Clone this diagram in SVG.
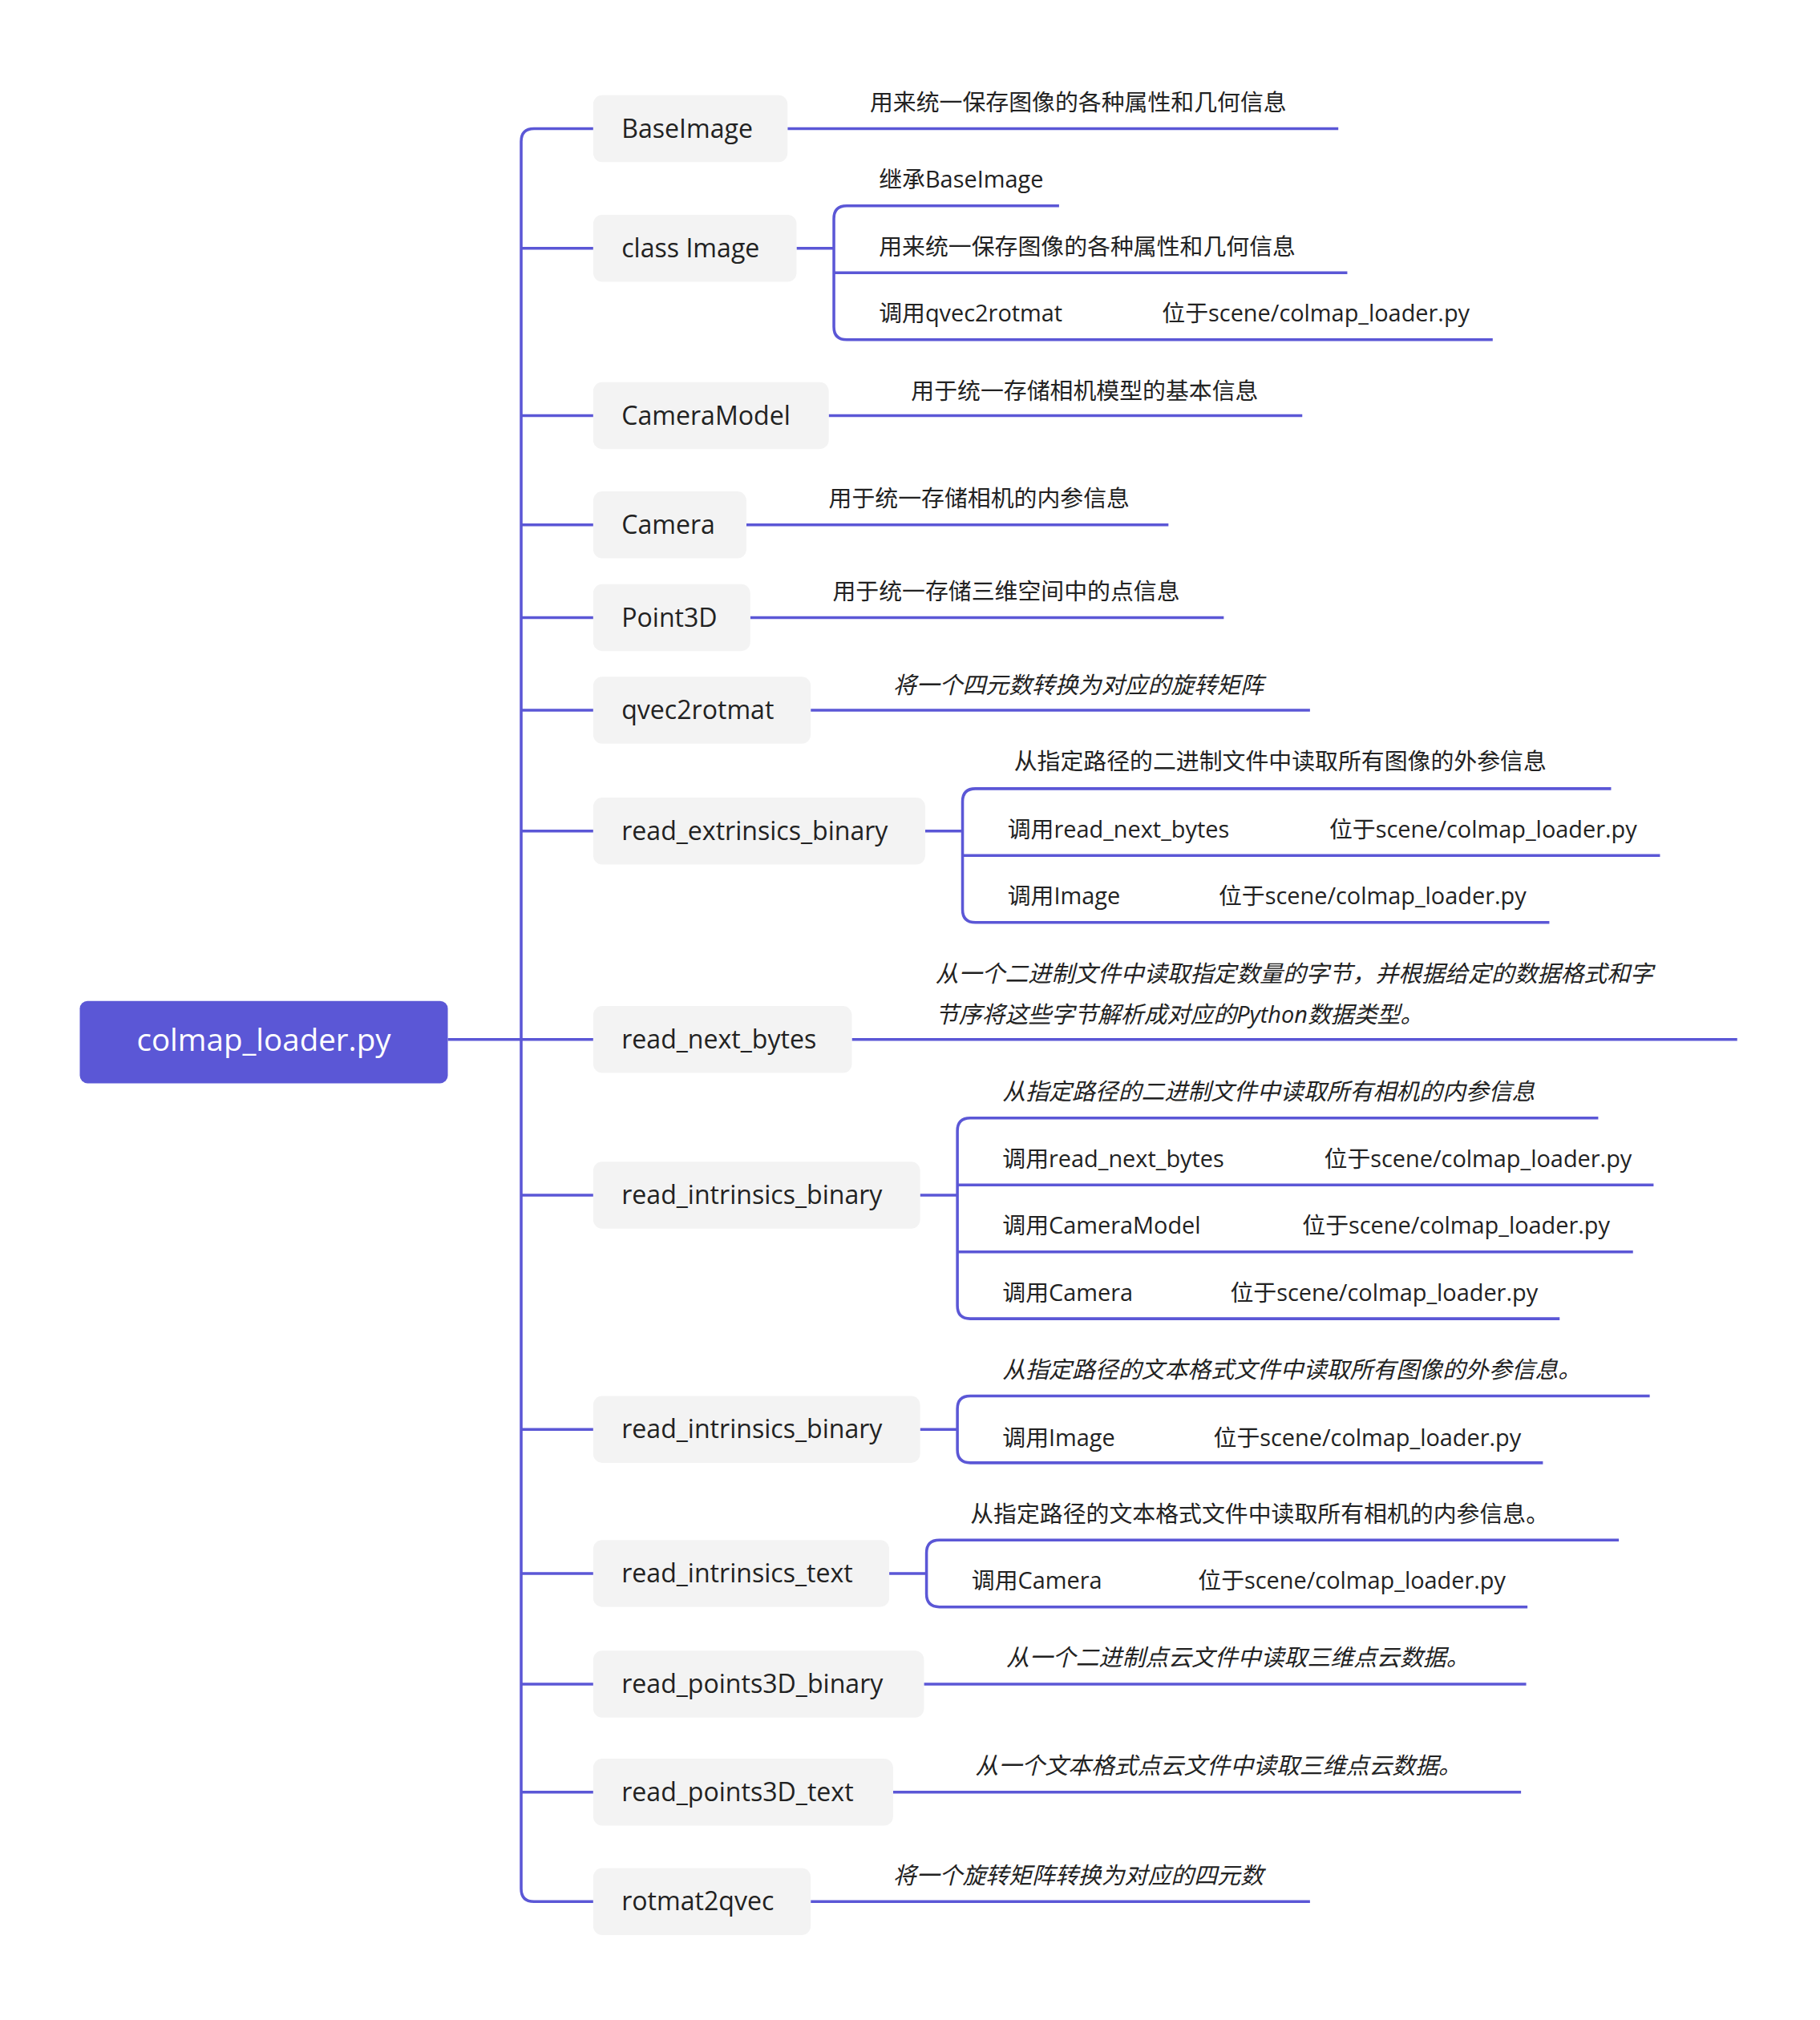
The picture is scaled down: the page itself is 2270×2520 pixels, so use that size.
<svg xmlns="http://www.w3.org/2000/svg" width="2270" height="2520" viewBox="0 0 2270 2520">
<style>
.n rect{fill:#f3f3f3}
.n text{font-family:"Open Sans","Noto Sans CJK SC",sans-serif;font-size:20px;fill:#222}
.t{font-family:"Open Sans","Noto Sans CJK SC",sans-serif;font-size:18px;fill:#222}
.i{font-style:italic}
#c path{fill:none;stroke:#5b57d6;stroke-width:2.2}
</style>
<rect width="2270" height="2520" fill="#fff"/>
<g transform="scale(1.605)">
<g id="c">
<path d="M348,808H461"/>
<path d="M461,100H415Q405,100 405,110V1468Q405,1478 415,1478H461"/>
<path d="M405,193H461M405,323H461M405,408H461M405,480H461M405,552H461M405,646H461M405,929H461M405,1111H461M405,1223H461M405,1309H461M405,1393H461"/>
<path d="M612,100H1040M644,323H1012M580,408H908M583,480H951M630,552H1018M662,808H1350M718,1309H1186M694,1393H1182M630,1478H1018"/>
<path d="M619,193H648M658,160Q648,160 648,170V254Q648,264 658,264H1160M658,160H823M648,212H1047"/>
<path d="M719,646H748M758,613Q748,613 748,623V707Q748,717 758,717H1204M758,613H1252M748,665H1290"/>
<path d="M715,929H744M754,869Q744,869 744,879V1015Q744,1025 754,1025H1212M754,869H1242M744,921H1285M744,973H1269"/>
<path d="M715,1111H744M754,1085Q744,1085 744,1095V1127Q744,1137 754,1137H1199M754,1085H1282"/>
<path d="M691,1223H720M730,1197Q720,1197 720,1207V1239Q720,1249 730,1249H1187M730,1197H1258"/>
</g>
<g id="root"><rect x="62" y="778" width="286" height="64" rx="6" fill="#5b57d6"/><text x="205" y="817" text-anchor="middle" font-family="Open Sans,Noto Sans CJK SC,sans-serif" font-size="24" fill="#fff">colmap_loader.py</text></g>
<g id="n1" class="n"><rect x="461" y="74" width="151" height="52" rx="7"/><text x="483" y="107">BaseImage</text></g>
<g id="n2" class="n"><rect x="461" y="167" width="158" height="52" rx="7"/><text x="483" y="200">class Image</text></g>
<g id="n3" class="n"><rect x="461" y="297" width="183" height="52" rx="7"/><text x="483" y="330">CameraModel</text></g>
<g id="n4" class="n"><rect x="461" y="382" width="119" height="52" rx="7"/><text x="483" y="415">Camera</text></g>
<g id="n5" class="n"><rect x="461" y="454" width="122" height="52" rx="7"/><text x="483" y="487">Point3D</text></g>
<g id="n6" class="n"><rect x="461" y="526" width="169" height="52" rx="7"/><text x="483" y="559">qvec2rotmat</text></g>
<g id="n7" class="n"><rect x="461" y="620" width="258" height="52" rx="7"/><text x="483" y="653">read_extrinsics_binary</text></g>
<g id="n8" class="n"><rect x="461" y="782" width="201" height="52" rx="7"/><text x="483" y="815">read_next_bytes</text></g>
<g id="n9" class="n"><rect x="461" y="903" width="254" height="52" rx="7"/><text x="483" y="936">read_intrinsics_binary</text></g>
<g id="n10" class="n"><rect x="461" y="1085" width="254" height="52" rx="7"/><text x="483" y="1118">read_intrinsics_binary</text></g>
<g id="n11" class="n"><rect x="461" y="1197" width="230" height="52" rx="7"/><text x="483" y="1230">read_intrinsics_text</text></g>
<g id="n12" class="n"><rect x="461" y="1283" width="257" height="52" rx="7"/><text x="483" y="1316">read_points3D_binary</text></g>
<g id="n13" class="n"><rect x="461" y="1367" width="233" height="52" rx="7"/><text x="483" y="1400">read_points3D_text</text></g>
<g id="n14" class="n"><rect x="461" y="1452" width="169" height="52" rx="7"/><text x="483" y="1485">rotmat2qvec</text></g>
<g id="labels">
<text class="t" x="676" y="86">用来统一保存图像的各种属性和几何信息</text>
<text class="t" x="683" y="146">继承BaseImage</text>
<text class="t" x="683" y="198">用来统一保存图像的各种属性和几何信息</text>
<text class="t" x="683" y="250">调用qvec2rotmat</text><text class="t" x="903" y="250">位于scene/colmap_loader.py</text>
<text class="t" x="708" y="310">用于统一存储相机模型的基本信息</text>
<text class="t" x="644" y="394">用于统一存储相机的内参信息</text>
<text class="t" x="647" y="466">用于统一存储三维空间中的点信息</text>
<text class="t i" x="694" y="539">将一个四元数转换为对应的旋转矩阵</text>
<text class="t" x="788" y="598">从指定路径的二进制文件中读取所有图像的外参信息</text>
<text class="t" x="783" y="651">调用read_next_bytes</text><text class="t" x="1033" y="651">位于scene/colmap_loader.py</text>
<text class="t" x="783" y="703">调用Image</text><text class="t" x="947" y="703">位于scene/colmap_loader.py</text>
<text class="t i" x="727" y="763">从一个二进制文件中读取指定数量的字节，并根据给定的数据格式和字</text>
<text class="t i" x="727" y="795">节序将这些字节解析成对应的Python数据类型。</text>
<text class="t i" x="779" y="855">从指定路径的二进制文件中读取所有相机的内参信息</text>
<text class="t" x="779" y="907">调用read_next_bytes</text><text class="t" x="1029" y="907">位于scene/colmap_loader.py</text>
<text class="t" x="779" y="959">调用CameraModel</text><text class="t" x="1012" y="959">位于scene/colmap_loader.py</text>
<text class="t" x="779" y="1011">调用Camera</text><text class="t" x="956" y="1011">位于scene/colmap_loader.py</text>
<text class="t i" x="779" y="1071">从指定路径的文本格式文件中读取所有图像的外参信息。</text>
<text class="t" x="779" y="1124">调用Image</text><text class="t" x="943" y="1124">位于scene/colmap_loader.py</text>
<text class="t" x="754" y="1183">从指定路径的文本格式文件中读取所有相机的内参信息。</text>
<text class="t" x="755" y="1235">调用Camera</text><text class="t" x="931" y="1235">位于scene/colmap_loader.py</text>
<text class="t i" x="782" y="1295">从一个二进制点云文件中读取三维点云数据。</text>
<text class="t i" x="758" y="1379">从一个文本格式点云文件中读取三维点云数据。</text>
<text class="t i" x="694" y="1464">将一个旋转矩阵转换为对应的四元数</text>
</g>
</g>
</svg>
